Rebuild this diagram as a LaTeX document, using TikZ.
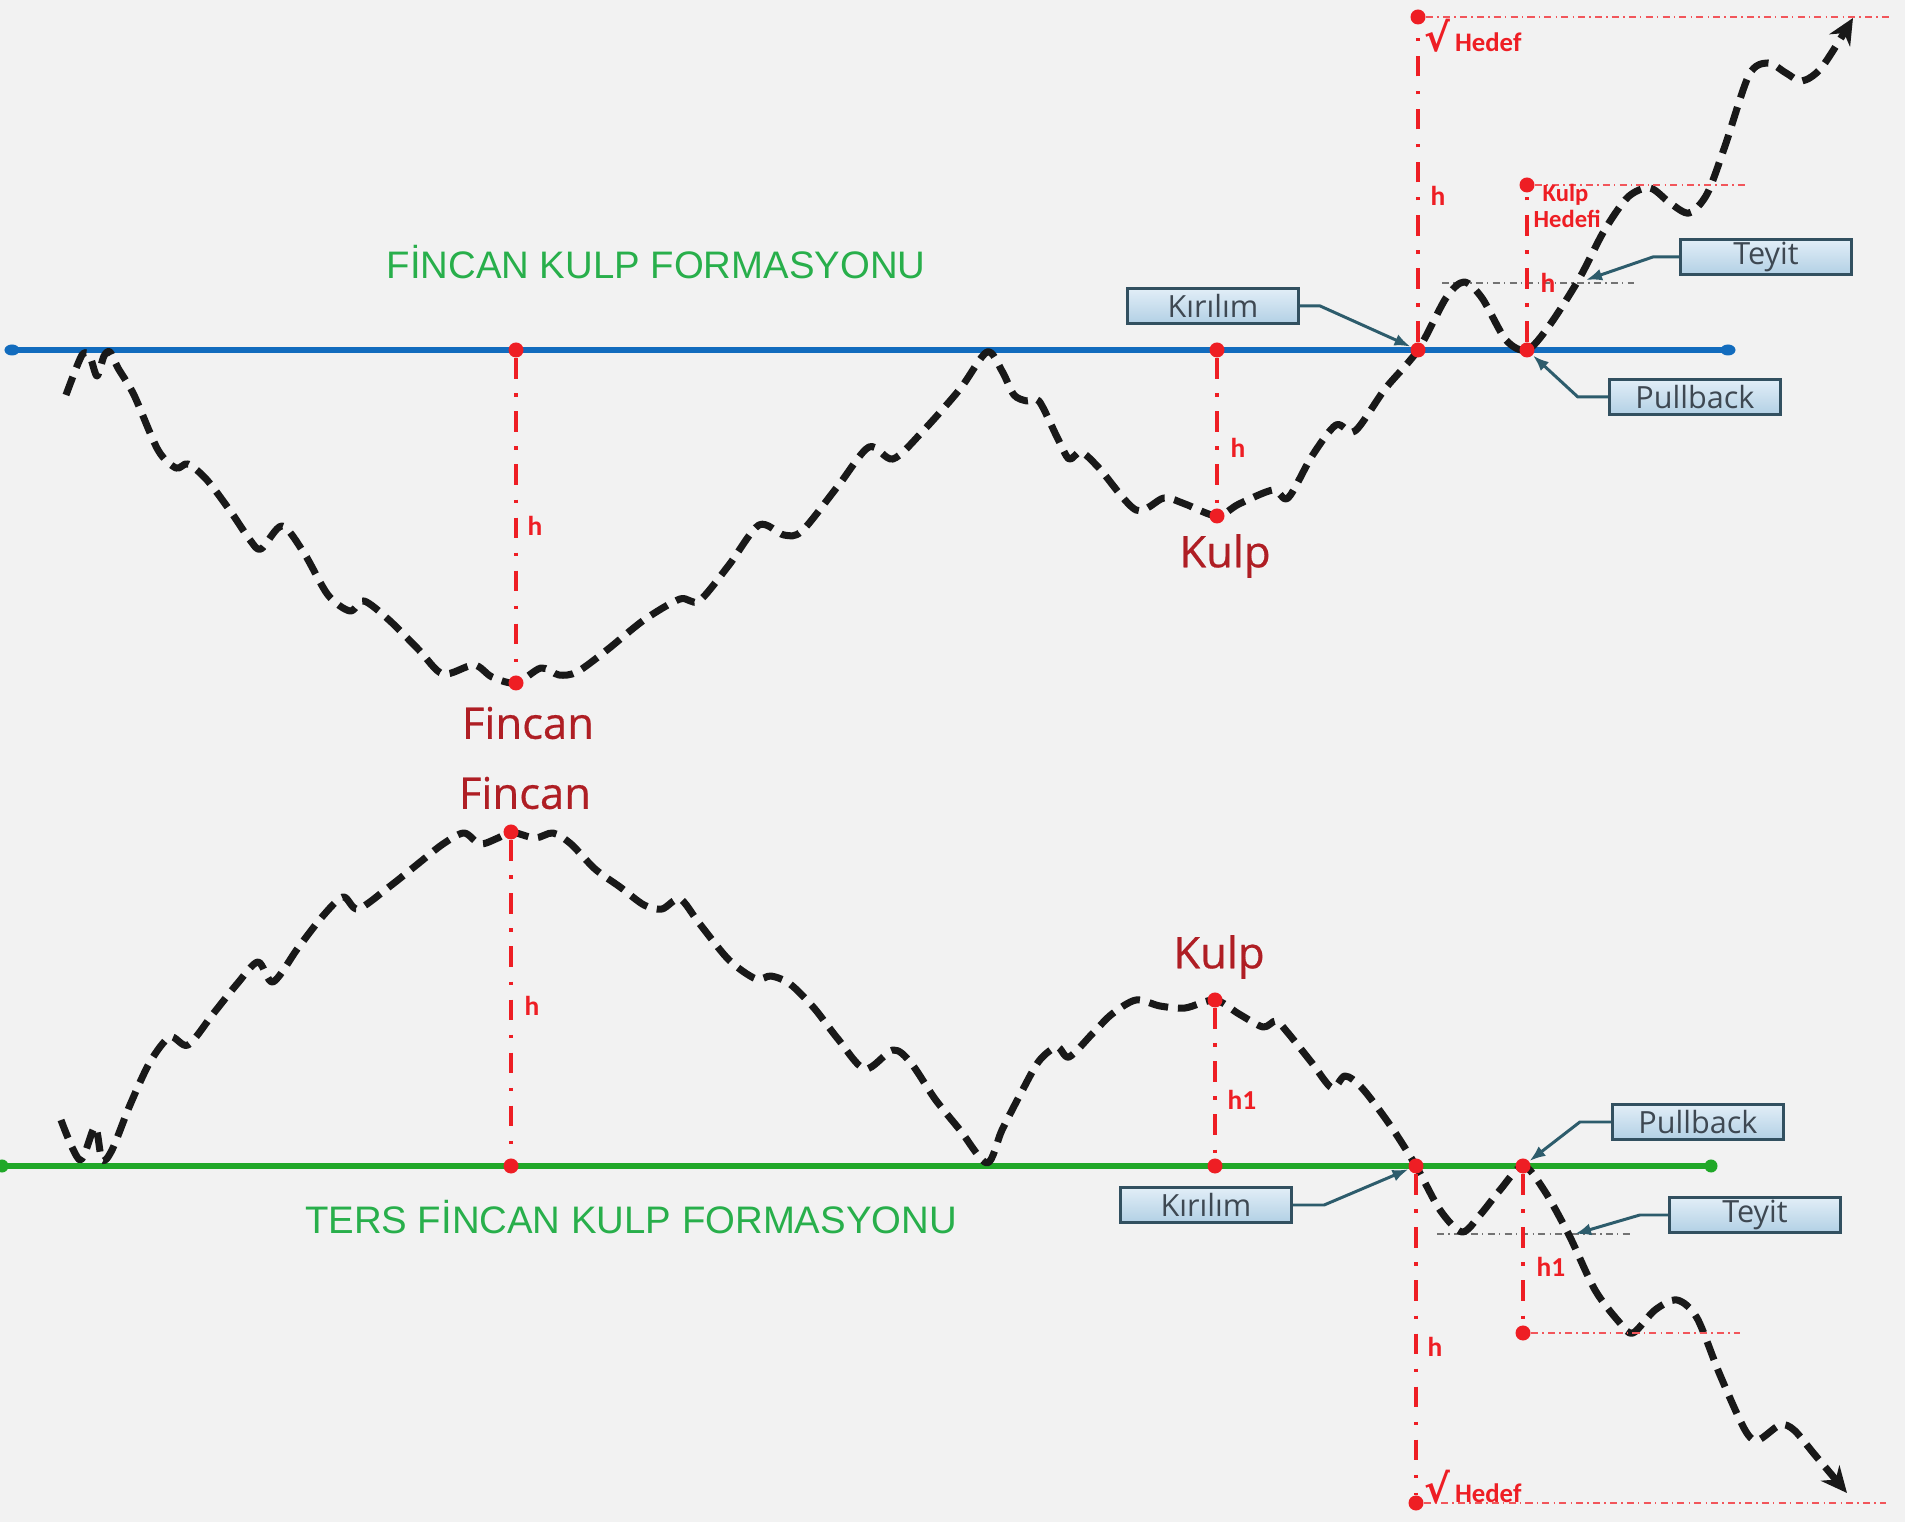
\documentclass[tikz,border=0pt]{standalone}
\usepackage{fontspec}
\setmainfont{Open Sans}
\newfontfamily\titlefont{Liberation Sans}
\newfontfamily\lblfont{Carlito}
\newfontfamily\symfont{DejaVu Sans}
\newfontfamily\biglabfont[FakeBold=0.5]{Open Sans}
\usetikzlibrary{arrows.meta,shapes.geometric}
\definecolor{bgcol}{RGB}{242,242,242}
\definecolor{myred}{RGB}{238,30,36}
\definecolor{darkred}{RGB}{175,30,36}
\definecolor{lineblue}{RGB}{18,108,190}
\definecolor{linegreen}{RGB}{32,168,40}
\definecolor{titlegreen}{RGB}{40,175,75}
\definecolor{boxtop}{RGB}{226,238,247}
\definecolor{boxbot}{RGB}{178,208,229}
\definecolor{boxborder}{RGB}{50,80,96}
\definecolor{boxtext}{RGB}{62,72,82}
\definecolor{conncol}{RGB}{45,92,108}
\definecolor{curvecol}{RGB}{25,25,25}
\tikzset{
 curve/.style={line width=2pt, dash pattern=on 5.5pt off 2.8pt, draw=curvecol, line join=round},
 redv/.style={draw=myred, line width=1.2pt, dash pattern=on 5.8pt off 4.2pt on 0.9pt off 4.2pt},
 tline/.style={draw=myred!75, line width=0.45pt, dash pattern=on 2pt off 1.2pt on 0.4pt off 1.2pt},
 gline/.style={draw=black!55, line width=0.45pt, dash pattern=on 2pt off 1.2pt on 0.4pt off 1.2pt},
 rdot/.style={circle, fill=myred, inner sep=0pt, minimum size=0.15cm},
 bdot/.style={ellipse, fill=lineblue, inner sep=0pt, minimum width=0.15cm, minimum height=0.11cm},
 gdot/.style={circle, fill=linegreen, inner sep=0pt, minimum size=0.13cm},
 infobox/.style={draw=boxborder, line width=0.9pt, top color=boxtop, bottom color=boxbot, minimum width=1.71cm, minimum height=0.355cm, inner sep=0pt, font=\fontsize{8.7}{9}\selectfont, text=boxtext},
 conn/.style={draw=conncol, line width=0.85pt, -{Latex[length=0.16cm,width=0.12cm]}},
 hlab/.style={text=myred, font=\lblfont\bfseries\fontsize{7.8}{8}\selectfont, inner sep=0pt, anchor=west},
 biglab/.style={text=darkred, font=\biglabfont\fontsize{12.4}{14}\selectfont, inner sep=0pt},
 titletext/.style={text=titlegreen, font=\titlefont\fontsize{10.9}{12}\selectfont, inner sep=0pt},
}
\begin{document}
\begin{tikzpicture}[x=0.01cm,y=-0.01cm]
\fill[bgcol] (0,0) rectangle (1905,1522);
\useasboundingbox (0,0) rectangle (1905,1522);

% ---------------- TOP PANEL ----------------
\node[bdot] (bl) at (12,350) {};
\node[bdot] (br) at (1728,350) {};
\draw[lineblue, line width=1.7pt] (bl.center) -- (br.center);

\node[titletext] (t1) at (656,262) {FİNCAN KULP FORMASYONU};

\coordinate (hedRend) at (1889,17);
\coordinate (khRend) at (1747,185);
\coordinate (teyL1) at (1442,283);
\coordinate (teyR1) at (1634,283);
\draw[gline] (teyL1) -- (teyR1);

\draw[curve, -{Stealth[length=0.26cm,width=0.24cm]}] plot[smooth, tension=0.5] coordinates {
(66,395) (82,355) (90,357) (97,376) (104,356) (110,352) (118,368) (134,395) (158,450)
(176,468) (188,464) (207,480) (231,512) (250,540) (261,549) (282,526) (304,553) (328,595)
(350,611) (364,601) (389,620) (419,650) (443,674) (474,665) (492,677) (516,683) (541,668)
(559,675) (577,672) (607,650) (644,620) (680,599) (699,601) (729,565) (759,525) (784,535)
(802,531) (838,486) (869,447) (893,459) (923,431) (960,389) (987,352) (1002,371) (1014,395)
(1027,401) (1039,401) (1057,437) (1069,459) (1081,452) (1099,468) (1136,510) (1164,498)
(1185,504) (1217,516) (1239,504) (1273,490) (1288,498) (1312,456) (1336,425) (1355,431)
(1385,389) (1418,350) (1446,298) (1464,282) (1482,298) (1506,340) (1527,350) (1549,326)
(1579,279) (1604,231) (1628,197) (1650,188) (1670,203) (1689,213) (1707,194) (1725,146)
(1749,75) (1768,63) (1786,73) (1802,81) (1822,67) (1853,18)};

\node[rdot] (fTop) at (516,350) {};
\node[rdot] (fBot) at (516,683) {};
\node[rdot] (kTop) at (1217,350) {};
\node[rdot] (kBot) at (1217,516) {};
\node[rdot] (brk1) at (1418,350) {};
\node[rdot] (hed1) at (1418,17) {};
\node[rdot] (pb1) at (1527,350) {};
\node[rdot] (kh1) at (1527,185) {};

\draw[tline] (hed1) -- (hedRend);
\draw[tline] (kh1) -- (khRend);

\draw[redv] (fTop) -- (fBot);
\draw[redv] (kTop) -- (kBot);
\draw[redv] (brk1) -- (hed1);
\draw[redv] (pb1) -- (kh1);

\node[hlab] (h1a) at (527,526) {h};
\node[hlab] (h1b) at (1230,448) {h};
\node[hlab] (h1c) at (1430,196) {h};
\node[hlab] (h1d) at (1540,283) {h};

\node[biglab] (fincan1) at (528,723) {Fincan};
\node[biglab] (kulp1) at (1225,556) {Kulp};

\node[hlab, anchor=west] (hedef1) at (1424,36) {{\symfont\fontsize{11}{12}\selectfont √}\,{\fontsize{7.6}{8}\selectfont Hedef}};
\node[hlab, anchor=west, font=\lblfont\bfseries\fontsize{7}{7.5}\selectfont] (kulpt) at (1542,195) {Kulp};
\node[hlab, anchor=west, font=\lblfont\bfseries\fontsize{7}{7.5}\selectfont] (hedefi) at (1533,219) {Hedefi};

\node[infobox] (kir1) at (1213,306) {Kırılım};
\node[infobox] (tey1) at (1766,257) {Teyit};
\node[infobox] (pul1) at (1695,397) {Pullback};
\coordinate (teyTip1) at (1586,280);
\draw[conn] (kir1.east) -- ++(20,0) -- (brk1);
\draw[conn] (tey1.west) -- ++(-26,0) -- (teyTip1);
\draw[conn] (pul1.west) -- ++(-30,0) -- (pb1);

% ---------------- BOTTOM PANEL ----------------
\node[gdot] (gl) at (2,1166) {};
\node[gdot] (gr) at (1711,1166) {};
\draw[linegreen, line width=1.8pt] (gl.center) -- (gr.center);

\node[titletext] (t2) at (631,1217) {TERS FİNCAN KULP FORMASYONU};

\coordinate (teyL2) at (1437,1234);
\coordinate (teyR2) at (1631,1234);
\draw[gline] (teyL2) -- (teyR2);
\coordinate (h1Rend) at (1740,1333);
\coordinate (hed2Rend) at (1886,1503);

\draw[curve, -{Stealth[length=0.26cm,width=0.24cm]}] plot[smooth, tension=0.5] coordinates {
(61,1120) (80,1160) (95,1127) (102,1160) (112,1150) (130,1105) (150,1062) (170,1037) (188,1045)
(213,1014) (237,984) (258,962) (273,982) (298,948) (322,917) (343,897) (358,909) (389,887)
(419,863) (443,844) (464,833) (480,844) (498,838) (511,832) (535,838) (553,833) (571,844)
(595,869) (620,887) (644,905) (662,909) (680,899) (699,923) (729,960) (756,979) (771,976)
(790,984) (814,1008) (838,1039) (865,1069) (893,1050) (911,1063) (935,1099) (960,1130)
(987,1163) (1002,1130) (1021,1093) (1039,1061) (1057,1047) (1069,1057) (1093,1033) (1112,1014)
(1136,1000) (1160,1006) (1185,1008) (1215,1000) (1239,1014) (1263,1027) (1276,1021) (1288,1033)
(1312,1063) (1332,1088) (1345,1076) (1362,1088) (1390,1125) (1416,1166) (1440,1210) (1462,1232)
(1480,1215) (1500,1190) (1523,1166) (1544,1190) (1569,1235) (1595,1290) (1620,1323) (1633,1333)
(1655,1310) (1677,1300) (1697,1318) (1720,1375) (1745,1430) (1758,1440) (1780,1425) (1794,1430)
(1815,1455) (1847,1493)};

\node[rdot] (fTop2) at (511,832) {};
\node[rdot] (fBot2) at (511,1166) {};
\node[rdot] (kTop2) at (1215,1000) {};
\node[rdot] (kBot2) at (1215,1166) {};
\node[rdot] (brk2) at (1416,1166) {};
\node[rdot] (hed2) at (1416,1503) {};
\node[rdot] (pb2) at (1523,1166) {};
\node[rdot] (h1t) at (1523,1333) {};

\draw[tline] (h1t) -- (h1Rend);
\draw[tline] (hed2) -- (hed2Rend);

\draw[redv] (fTop2) -- (fBot2);
\draw[redv] (kTop2) -- (kBot2);
\draw[redv] (brk2) -- (hed2);
\draw[redv] (pb2) -- (h1t);

\node[hlab] (h2a) at (524,1006) {h};
\node[hlab] (h2b) at (1227,1100) {h1};
\node[hlab] (h2c) at (1427,1347) {h};
\node[hlab] (h2d) at (1536,1267) {h1};

\node[biglab] (fincan2) at (525,793) {Fincan};
\node[biglab] (kulp2) at (1219,957) {Kulp};

\node[hlab, anchor=west] (hedef2) at (1424,1487) {{\symfont\fontsize{11}{12}\selectfont √}\,{\fontsize{7.6}{8}\selectfont Hedef}};

\node[infobox] (pul2) at (1698,1122) {Pullback};
\node[infobox] (kir2) at (1206,1205) {Kırılım};
\node[infobox] (tey2) at (1755,1215) {Teyit};
\coordinate (teyTip2) at (1575,1234);
\draw[conn] (pul2.west) -- ++(-31,0) -- (pb2);
\draw[conn] (kir2.east) -- ++(31,0) -- (brk2);
\draw[conn] (tey2.west) -- ++(-28,0) -- (teyTip2);
\end{tikzpicture}
\end{document}
